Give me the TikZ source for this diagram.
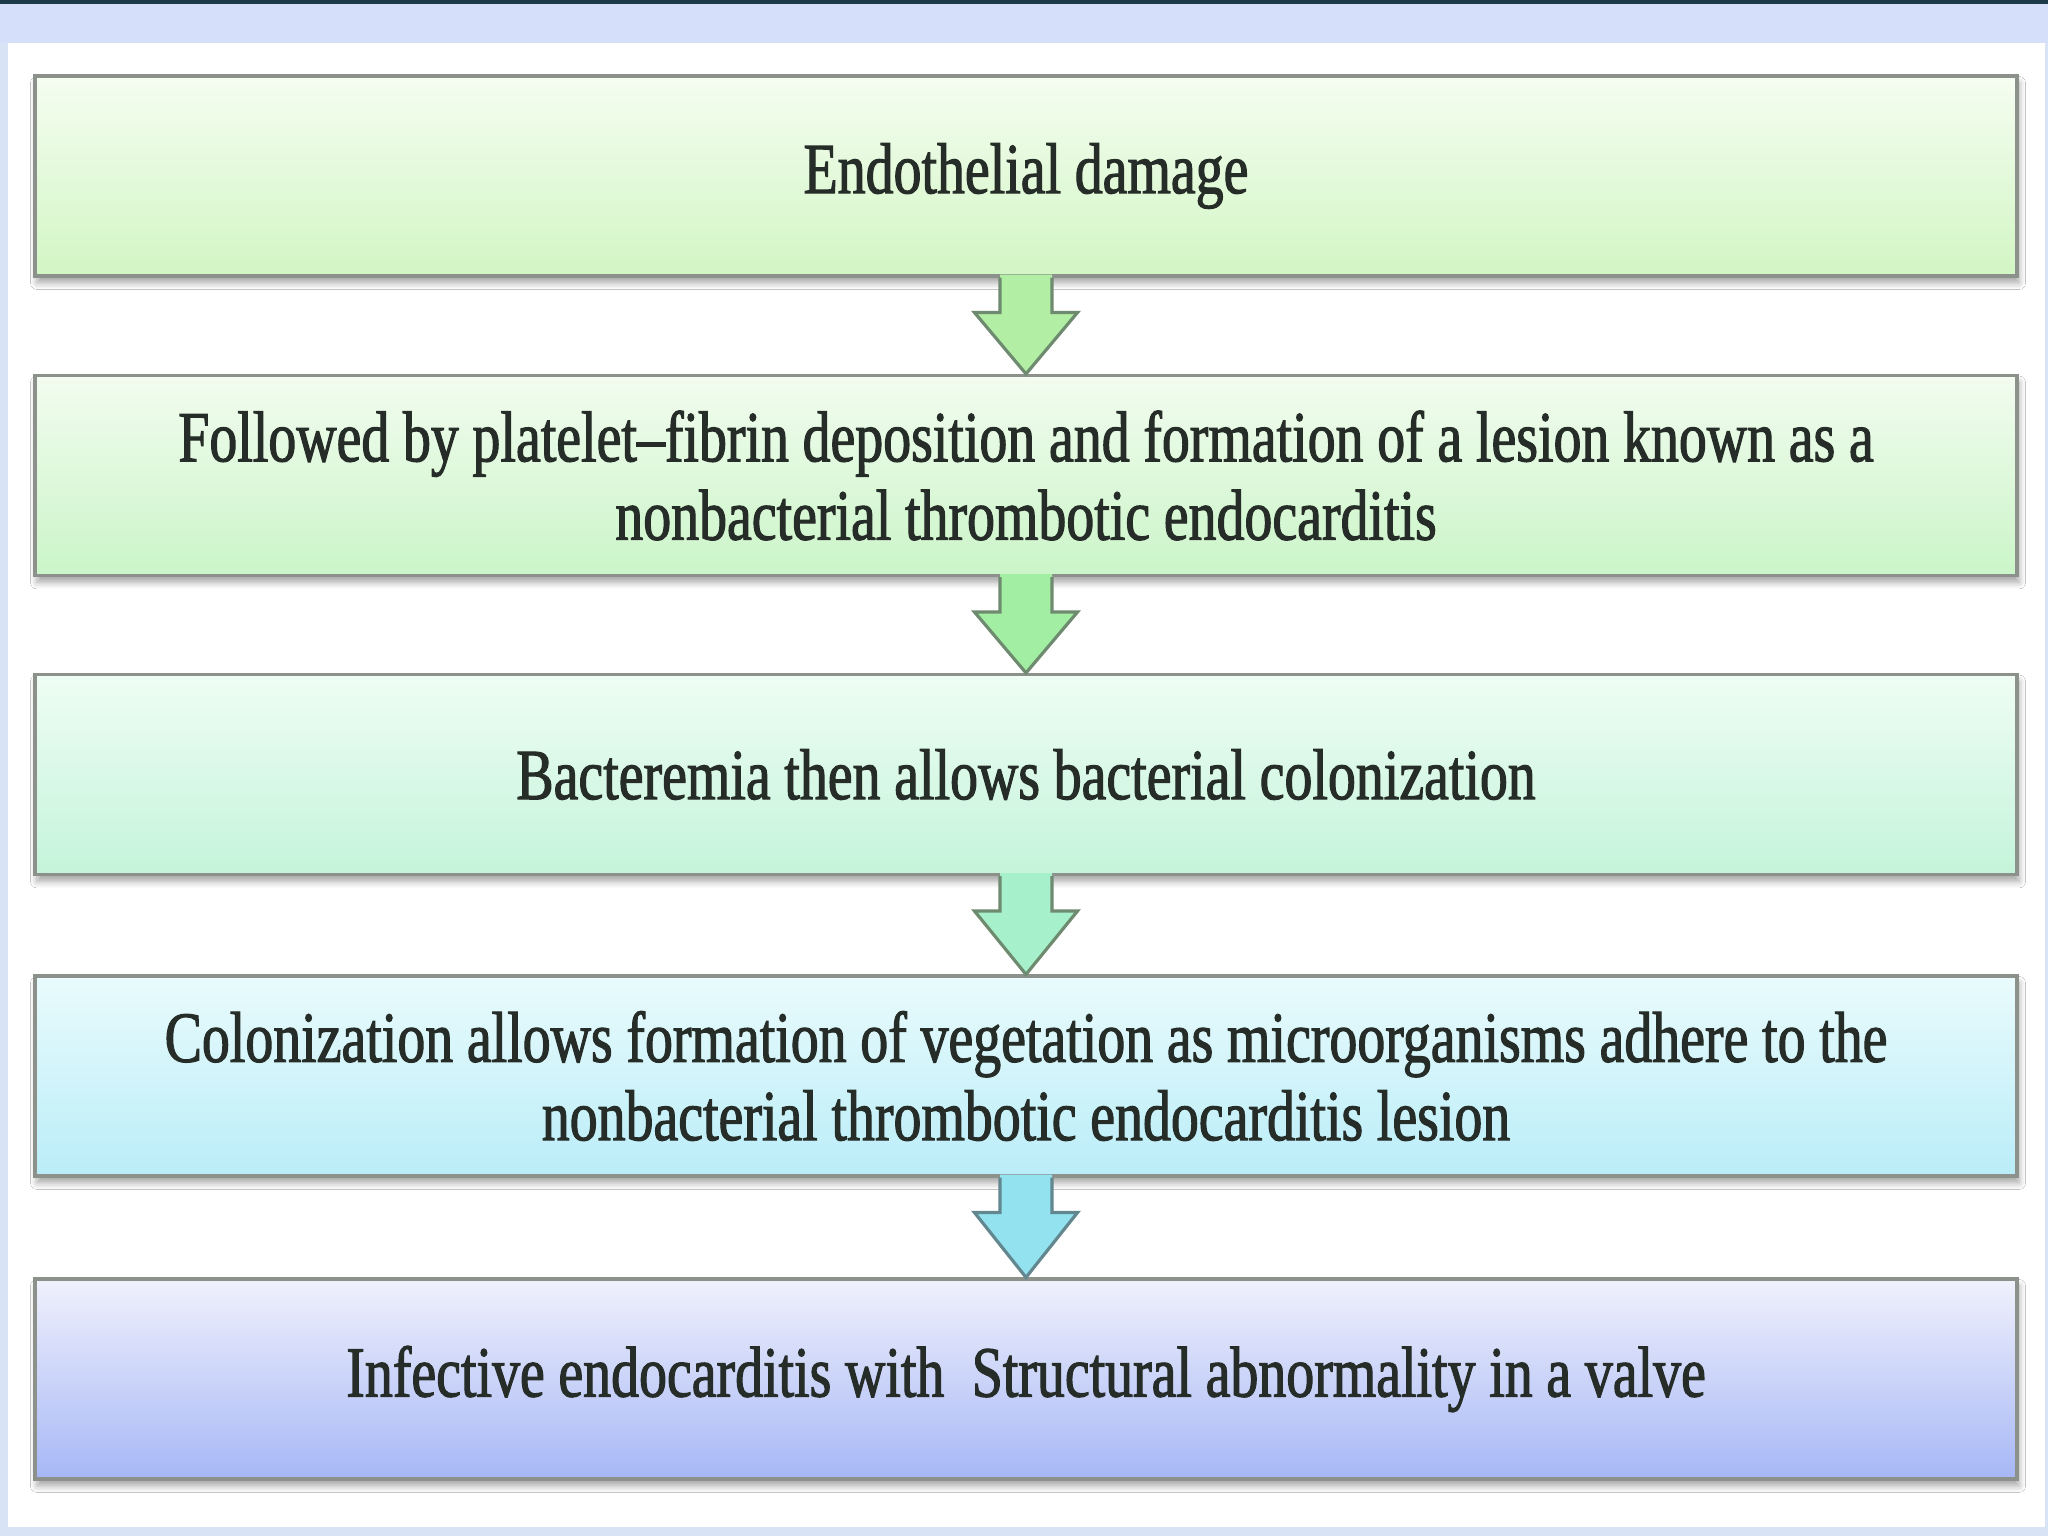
\documentclass[tikz,border=0pt]{standalone}
\usepackage{fontspec}
\setmainfont{Liberation Serif}[FakeStretch=0.775, FakeBold=1.5]
\usetikzlibrary{shadows,shadows.blur,calc}
\definecolor{sideblue}{HTML}{D8E3F5}
\definecolor{bandblue}{HTML}{D6DFFA}
\definecolor{topbar}{HTML}{1C3A48}
\definecolor{boxline}{HTML}{8C918C}
\definecolor{txtdark}{HTML}{262D28}
\definecolor{aTop}{HTML}{F5FDF1}\definecolor{aBot}{HTML}{D2F6C4}
\definecolor{bTop}{HTML}{F2FCEF}\definecolor{bBot}{HTML}{CBF5C8}
\definecolor{cTop}{HTML}{EFFDF4}\definecolor{cBot}{HTML}{C4F4DA}
\definecolor{dTop}{HTML}{E9FBFC}\definecolor{dBot}{HTML}{BAEDF8}
\definecolor{eTop}{HTML}{F0F1FC}\definecolor{eBot}{HTML}{A6B7F5}
\definecolor{arA}{HTML}{B2EEA4}
\definecolor{arB}{HTML}{A2EFA4}
\definecolor{arC}{HTML}{A6F1CC}
\definecolor{arD}{HTML}{92E2F0}
\definecolor{arLineG}{HTML}{6E8B70}
\definecolor{arLineC}{HTML}{62878E}
\tikzset{
  stepbox/.style={rectangle, draw=boxline, line width=0.9pt,
    minimum width=19.82cm, minimum height=2cm, text width=19.2cm,
    align=center, text=txtdark, inner sep=0pt,
    font=\fontsize{20.5}{22.3}\selectfont,
    execute at begin node={\spaceskip=3.9pt\relax},
    blur shadow={shadow xshift=0.02cm, shadow yshift=-0.07cm, shadow opacity=35, shadow blur steps=6}},
  arrowfill/.style={fill=#1},
  arrowline/.style={draw=#1, line width=0.9pt, line join=miter}
}
\newcommand\flowarrow[4]{%
  \fill[arrowfill=#3] ($(#1.south)+(-0.26,0.03)$) -- ($(#1.south)+(-0.26,-0.35)$) -- ($(#1.south)+(-0.515,-0.35)$) -- (#2.north) -- ($(#1.south)+(0.515,-0.35)$) -- ($(#1.south)+(0.26,-0.35)$) -- ($(#1.south)+(0.26,0.03)$) -- cycle;
  \draw[arrowline=#4] ($(#1.south)+(-0.26,0)$) -- ($(#1.south)+(-0.26,-0.35)$) -- ($(#1.south)+(-0.515,-0.35)$) -- (#2.north) -- ($(#1.south)+(0.515,-0.35)$) -- ($(#1.south)+(0.26,-0.35)$) -- ($(#1.south)+(0.26,0)$);
}
\begin{document}
\begin{tikzpicture}[x=1cm,y=1cm]
\useasboundingbox (0,0) rectangle (20.48,15.36);
\fill[sideblue] (0,0) rectangle (20.48,15.36);
\fill[bandblue] (0,14.93) rectangle (20.48,15.32);
\fill[topbar] (0,15.32) rectangle (20.48,15.36);
\fill[white] (0.08,0.09) rectangle (20.45,14.93);

\node[stepbox, top color=aTop, bottom color=aBot] (b1) at (10.26,13.60) {Endothelial damage};
\node[stepbox, top color=bTop, bottom color=bBot] (b2) at (10.26,10.605) {Followed by platelet--fibrin deposition and formation of a lesion known as a\\ nonbacterial thrombotic endocarditis};
\node[stepbox, top color=cTop, bottom color=cBot] (b3) at (10.26,7.615) {Bacteremia then allows bacterial colonization};
\node[stepbox, top color=dTop, bottom color=dBot] (b4) at (10.26,4.60) {Colonization allows formation of vegetation as microorganisms adhere to the\\ nonbacterial thrombotic endocarditis lesion};
\node[stepbox, top color=eTop, bottom color=eBot] (b5) at (10.26,1.57) {Infective endocarditis with\ \ Structural abnormality in a valve};

\flowarrow{b1}{b2}{arA}{arLineG}
\flowarrow{b2}{b3}{arB}{arLineG}
\flowarrow{b3}{b4}{arC}{arLineG}
\flowarrow{b4}{b5}{arD}{arLineC}
\end{tikzpicture}
\end{document}
